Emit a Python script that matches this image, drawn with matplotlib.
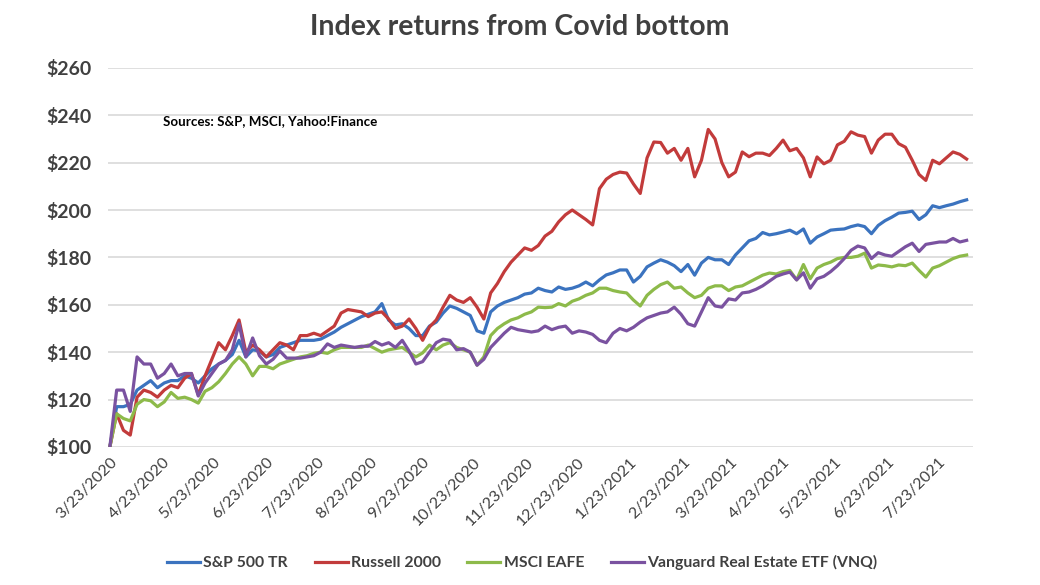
import matplotlib
matplotlib.use("Agg")
import matplotlib.pyplot as plt
import pandas as pd

plt.rcParams["font.family"] = ["Lato", "DejaVu Sans"]

# one reading every 4 calendar days, starting at the Covid bottom
dates = pd.date_range("2020-03-23", periods=127, freq="4D")

sp500 = [
    100, 117, 117, 118, 124, 126, 128, 125, 127, 128, 128, 130, 129, 127, 130, 133,
    135, 136.5, 139, 145, 138, 141, 140.5, 138, 139, 142, 143, 144, 145, 145, 145, 145.5,
    147, 148.5, 150.5, 152, 153.5, 155, 156, 157, 160.5, 153.5, 151.5, 152, 150, 147,
    147, 151, 152.7, 156.5, 159.5, 158.5, 157, 155.5, 149, 148, 157, 159.5, 161, 162,
    163, 164.5, 165, 167, 166, 165.4, 167.5, 166.5, 167, 168, 169.6, 168, 170.5, 172.6,
    173.5, 174.7, 174.7, 169.6, 172, 176, 177.6, 179, 178, 176.5, 174, 177, 172.5, 177.6,
    180, 179, 179, 177, 181, 184, 187, 188, 190.5, 189.5, 190, 190.7, 191.5, 190, 192,
    186, 188.6, 190, 191.5, 191.8, 192, 193, 193.7, 193, 190, 193.5, 195.5, 197, 198.7,
    199, 199.5, 196, 198, 201.8, 201, 201.8, 202.5, 203.5, 204.3,
]

russell = [
    100, 114, 107, 105, 121, 124, 123, 121, 124, 126, 125, 129, 131, 122, 130, 137,
    144, 141, 147, 153.6, 140, 143, 141, 138, 141, 144, 143, 141, 147, 147, 148, 147,
    149, 151, 156.5, 158, 157.5, 157, 155, 156.5, 157, 154, 150, 151, 154, 150, 145,
    150.6, 153.6, 159, 164, 162, 161, 163, 159, 154, 165, 169, 174, 178, 181, 184, 183,
    185, 189, 191, 195, 198, 200, 198, 196, 193.7, 209, 213, 215, 216, 215.6, 211, 207,
    222, 228.7, 228.5, 224, 226, 221, 226, 214, 221, 234, 230, 220, 214, 216, 224.5,
    222.5, 224, 224, 223, 226, 229.5, 225, 226, 222, 214, 222.4, 219.5, 221, 227.5, 229,
    233, 231.6, 231, 224, 229.5, 232, 232, 228, 226.5, 221, 215, 212.5, 221, 219.5, 222,
    224.5, 223.5, 221.5,
]

eafe = [
    100, 114, 112, 111, 118, 120, 119.5, 117, 119, 123, 120.5, 121, 120, 118.5, 123.5,
    125, 127.5, 131, 135, 138, 135, 130, 134, 134, 133, 135, 136, 137, 138, 138.5, 139.5,
    140, 139.5, 141, 142, 142, 142, 142, 143, 141.5, 140, 141, 141.5, 142, 140, 138,
    139.7, 143, 141, 143, 144, 142, 141, 140, 134.5, 138, 147, 150, 152, 153.6, 154.5,
    156, 157, 159, 158.8, 159, 160.5, 159.5, 161.5, 162.5, 164, 165, 167, 167, 166, 165.4,
    165, 162, 159.5, 164, 166.5, 168.5, 169.6, 167, 167.5, 165, 163, 164, 167, 168, 168,
    166, 167.5, 168, 169.5, 171, 172.5, 173.4, 173, 174, 174.5, 170.5, 177, 171, 175.5,
    177, 178, 179.5, 180, 180, 180.5, 181.8, 175.5, 176.8, 176.5, 176, 176.8, 176.5,
    177.6, 174.5, 171.7, 175.5, 176.5, 178, 179.5, 180.5, 181,
]

vnq = [
    100, 124, 124, 115, 138, 135, 135, 129, 131, 135, 130, 131, 131, 121.5, 127, 131,
    135, 136.5, 141, 152, 138, 146, 138.5, 135, 137, 140.5, 137.5, 137.5, 137.5, 138,
    138.5, 140, 143.5, 142, 143, 142.5, 142, 142.5, 142.5, 144.5, 143, 144, 142, 145,
    140.5, 135, 136, 140, 144, 145.5, 145, 141, 141.5, 140, 134.5, 137, 142, 145, 148,
    150.5, 149.5, 149, 148.5, 149, 151, 149.5, 150.5, 151, 148, 149, 148.5, 147.5, 145,
    144, 148, 150, 149, 150.5, 152.7, 154.5, 155.5, 156.5, 157, 159, 156, 152, 151, 157,
    163, 159.5, 159, 162.5, 162, 165, 165.4, 166.5, 168, 170, 172, 173, 173.8, 170.5,
    173.5, 167, 171, 172, 174, 176.5, 179.5, 183, 184.8, 184, 179.5, 182, 181, 180.5,
    182.5, 184.5, 186, 182.5, 185.5, 186, 186.5, 186.5, 188, 186.5, 187.2,
]

series_names = ["S&P 500 TR", "Russell 2000", "MSCI EAFE", "Vanguard Real Estate ETF (VNQ)"]
series_colors = ["#3B73BF", "#C23B3B", "#8DBA4A", "#7A52A0"]

# monthly ticks on the 23rd, 3/23/2020 .. 7/23/2021
tick_dates = pd.date_range("2020-03-23", periods=17, freq=pd.DateOffset(months=1))
y_ticks = list(range(100, 261, 20))

text_grey = "#404040"

fig = plt.figure(figsize=(10.4, 5.85), dpi=100)
ax = fig.add_axes([0.104, 0.236, 0.832, 0.648])

for vals, name, col in zip([sp500, russell, eafe, vnq], series_names, series_colors):
    ax.plot(dates, vals, color=col, lw=2.3, label=name, solid_joinstyle="round")

ax.set_ylim(100, 260)
ax.set_yticks(y_ticks)
ax.set_yticklabels([f"${v}" for v in y_ticks], fontsize=14, fontweight="bold", color=text_grey)
ax.set_xlim(dates[0] - pd.Timedelta(days=1), dates[-1] + pd.Timedelta(days=4))
ax.set_xticks(tick_dates)
ax.set_xticklabels([f"{d.month}/{d.day}/{d.year}" for d in tick_dates], rotation=45,
                   ha="right", va="top", rotation_mode="anchor", fontsize=11.5, color=text_grey)
ax.tick_params(axis="both", length=0)
ax.tick_params(axis="y", pad=12)
ax.tick_params(axis="x", pad=6)
ax.grid(axis="y", color="#d9d9d9", lw=1.2)
ax.set_axisbelow(True)
for s in ax.spines.values():
    s.set_visible(False)

ax.text(0.063, 0.86, "Sources: S&P, MSCI, Yahoo!Finance", transform=ax.transAxes,
        fontsize=9.6, fontweight="bold", color="black", va="center")

fig.text(0.5, 0.954, "Index returns from Covid bottom", ha="center", va="center",
         fontsize=20.5, fontweight="bold", color=text_grey)

fig.legend(loc="center", bbox_to_anchor=(0.502, 0.038), ncol=4, frameon=False,
           prop={"size": 11.3, "weight": "bold"}, labelcolor=text_grey,
           handlelength=2.1, handletextpad=0.2, columnspacing=1.7)

fig.savefig("out.png", dpi=100)
